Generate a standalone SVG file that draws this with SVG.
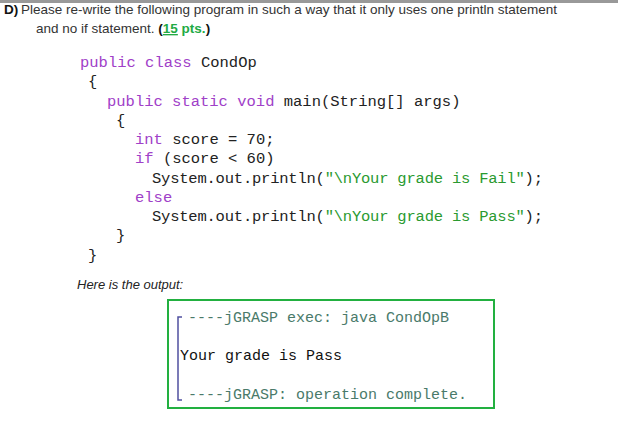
<svg xmlns="http://www.w3.org/2000/svg" width="618" height="439" viewBox="0 0 618 439">
<style>
.h{font-family:"Liberation Sans",sans-serif;font-size:13.5px;fill:#333}
.c{font-family:"Liberation Mono","DejaVu Sans Mono",monospace;font-size:15.5px;fill:#222}
.k{fill:#a040c8}
.s{fill:#2a9a30}
.o{font-family:"Liberation Mono","DejaVu Sans Mono",monospace;font-size:15px}
</style>
<rect width="618" height="439" fill="#fff"/>
<line x1="0" y1="1.5" x2="618" y2="1.5" stroke="#999" stroke-width="3"/>
<g id="header">
<text x="4" y="14" class="h" style="font-weight:bold;fill:#111">D)</text>
<text x="21" y="14" class="h" textLength="536" lengthAdjust="spacingAndGlyphs">Please re-write the following program in such a way that it only uses one println statement</text>
<text x="36" y="33" class="h">and no if statement. <tspan style="font-weight:bold;fill:#111">(</tspan><tspan style="font-weight:bold;fill:#22aa44;text-decoration:underline">15</tspan><tspan style="font-weight:bold;fill:#22aa44"> pts.</tspan><tspan style="font-weight:bold;fill:#111">)</tspan></text>
</g>
<g id="code" class="c">
<text x="80" y="67"><tspan class="k">public class</tspan> CondOp</text>
<text x="88" y="86">{</text>
<text x="107" y="106"><tspan class="k">public static void</tspan> main(String[] args)</text>
<text x="116" y="125">{</text>
<text x="135" y="144"><tspan class="k">int</tspan> score = 70;</text>
<text x="135" y="163"><tspan class="k">if</tspan> (score &lt; 60)</text>
<text x="152" y="183" textLength="391">System.out.println(<tspan class="s">"\nYour grade is Fail"</tspan>);</text>
<text x="135" y="202"><tspan class="k">else</tspan></text>
<text x="152" y="221" textLength="391">System.out.println(<tspan class="s">"\nYour grade is Pass"</tspan>);</text>
<text x="116" y="240">}</text>
<text x="88" y="260">}</text>
</g>
<text x="77" y="289" style="font-family:'Liberation Sans',sans-serif;font-size:13px;font-style:italic;fill:#222">Here is the output:</text>
<g id="output">
<rect x="168" y="300" width="326" height="108" fill="none" stroke="#22b040" stroke-width="2"/>
<path d="M182 317 H178 V400 H182" fill="none" stroke="#5050a0" stroke-width="1.5"/>
<text x="188" y="322" class="o" style="fill:#4a7a6a">----jGRASP exec: java CondOpB</text>
<text x="180" y="360" class="o" style="fill:#111">Your grade is Pass</text>
<text x="188" y="399" class="o" style="fill:#4a7a6a">----jGRASP: operation complete.</text>
</g>
</svg>
